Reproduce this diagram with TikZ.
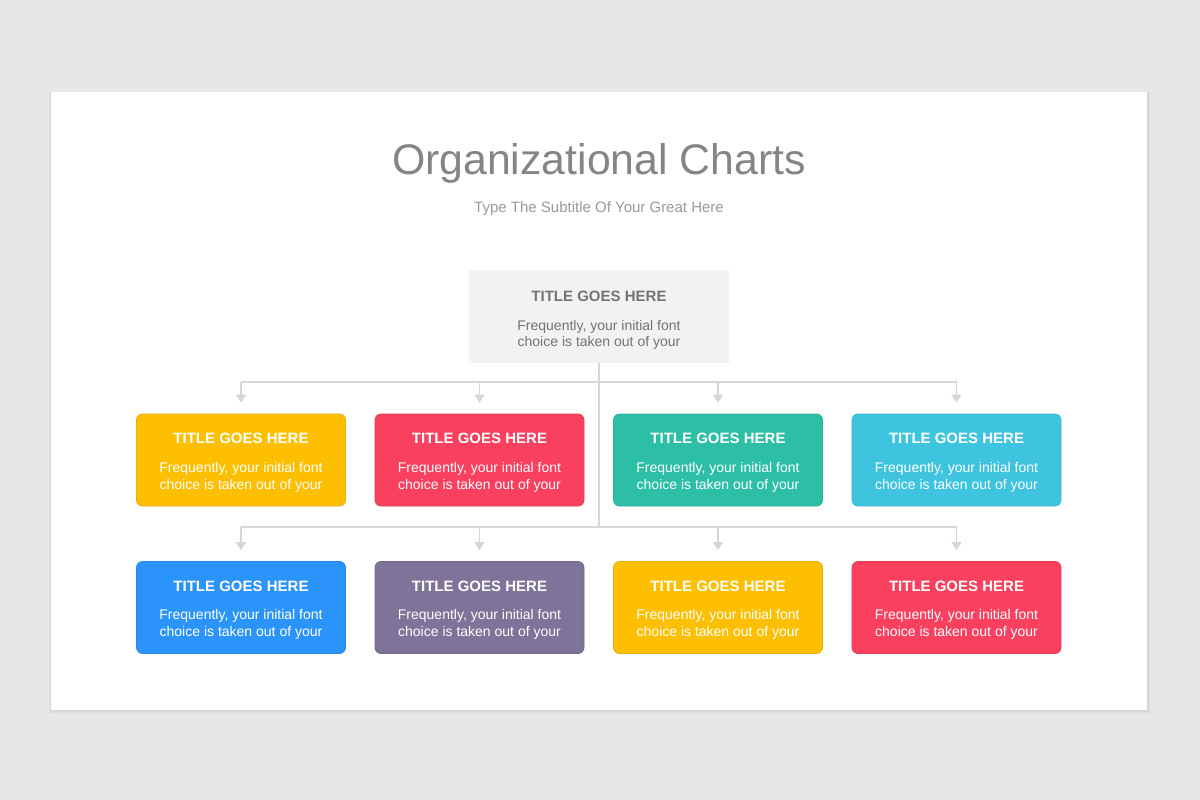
\documentclass[tikz,border=0pt]{standalone}
\usepackage{fontspec}
\setmainfont{Liberation Sans}
\usetikzlibrary{arrows.meta,shadows}
\definecolor{bgc}{HTML}{E8E6E7}
\definecolor{linec}{HTML}{D6D6D6}
\definecolor{topfill}{HTML}{F2F2F2}
\definecolor{topt}{HTML}{737373}
\definecolor{ctitle}{HTML}{858585}
\definecolor{csub}{HTML}{9A9A9A}
\definecolor{cyel}{HTML}{FDBF00}
\definecolor{cred}{HTML}{F9405E}
\definecolor{cteal}{HTML}{2CBFA5}
\definecolor{ccyan}{HTML}{3EC4DF}
\definecolor{cblue}{HTML}{2B94FA}
\definecolor{cpurp}{HTML}{7E7398}
\tikzset{
  card/.style={draw=#1!92!black, line width=0.8pt, fill=#1, rounded corners=6pt, minimum width=209pt, minimum height=92pt, inner sep=0pt},
  cardtitle/.style={text=white, font=\bfseries\fontsize{15}{18}\selectfont, inner sep=0pt},
  cardbody/.style={text=white, font=\fontsize{14}{17}\selectfont, align=center, inner sep=0pt},
  conn/.style={draw=linec, line width=1.5pt},
  arr/.style={conn, -{Triangle[width=10pt,length=8pt]}, shorten >=11pt},
}
\begin{document}
\begin{tikzpicture}[x=1pt,y=-1pt]
\useasboundingbox (0,0) rectangle (1200,800);
\fill[bgc] (0,0) rectangle (1200,800);
\fill[black,opacity=0.03] (49,92) rectangle (1150,713);
\fill[black,opacity=0.03] (50,92) rectangle (1149,711.5);
\fill[white] (51,92) rectangle (1147,710);
\node[text=ctitle, font=\fontsize{42.8}{50}\selectfont, inner sep=0pt] (title) at (599,163) {Organizational Charts};
\node[text=csub, font=\fontsize{15}{18}\selectfont, inner sep=0pt] (sub) at (599,209) {Type The Subtitle Of Your Great Here};
% top box
\node[fill=topfill, minimum width=260pt, minimum height=93pt, inner sep=0pt] (top) at (599,316.5) {};
\node[text=topt, font=\bfseries\fontsize{15}{18}\selectfont, inner sep=0pt] (topT) at (599,296) {TITLE GOES HERE};
\node[text=topt, font=\fontsize{14}{16}\selectfont, align=center, inner sep=0pt] (topB) at (599,334.5) {Frequently, your initial font\\choice is taken out of your};
% row 1
\foreach \n/\x/\c in {a/241/cyel,b/479.5/cred,c/718/cteal,d/956.5/ccyan}{
  \node[card=\c] (\n) at (\x,460) {};
  \node[cardtitle] (\n T) at (\x,438.5) {TITLE GOES HERE};
  \node[cardbody] (\n B) at (\x,477) {Frequently, your initial font\\choice is taken out of your};
}
\foreach \n/\x/\c in {e/241/cblue,f/479.5/cpurp,g/718/cyel,h/956.5/cred}{
  \node[card=\c] (\n) at (\x,607.5) {};
  \node[cardtitle] (\n T) at (\x,586) {TITLE GOES HERE};
  \node[cardbody] (\n B) at (\x,624.5) {Frequently, your initial font\\choice is taken out of your};
}
% connectors
\coordinate (j1) at (599,382);
\coordinate (j2) at (599,527);
\coordinate (l1) at (241,382);
\coordinate (r1) at (956.5,382);
\coordinate (l2) at (241,527);
\coordinate (r2) at (956.5,527);
\draw[conn] (top.south) -- (j2);
\draw[conn] (l1) -- (r1);
\draw[conn] (l2) -- (r2);
\foreach \n in {a,b,c,d}{ \draw[arr] (\n.north |- j1) -- (\n.north); }
\foreach \n in {e,f,g,h}{ \draw[arr] (\n.north |- j2) -- (\n.north); }
\end{tikzpicture}
\end{document}
